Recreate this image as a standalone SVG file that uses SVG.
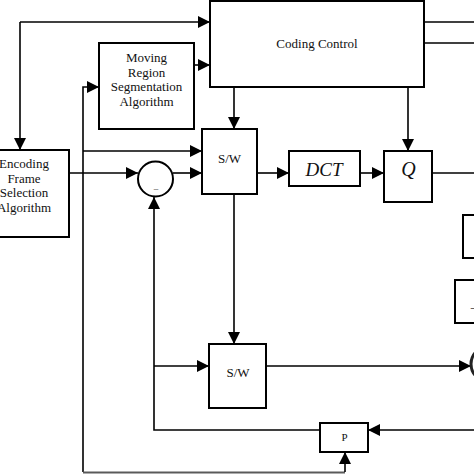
<svg xmlns="http://www.w3.org/2000/svg" width="474" height="474" viewBox="0 0 474 474">
  <defs>
    <marker id="ah" viewBox="0 0 12 12" refX="12" refY="6" markerWidth="12" markerHeight="12" markerUnits="userSpaceOnUse" orient="auto">
      <path d="M0,0 L12,6 L0,12 z" fill="#000"/>
    </marker>
    <style>
      .box { fill: #fff; stroke: #000; stroke-width: 2; }
      .ln { fill: none; stroke: #000; stroke-width: 1.6; }
      .arr { fill: none; stroke: #000; stroke-width: 1.6; marker-end: url(#ah); }
      .t { font-family: "Liberation Serif", "Times New Roman", serif; font-size: 13px; text-anchor: middle; fill: #111; }
      .it { font-style: italic; }
    </style>
  </defs>
  <rect width="474" height="474" fill="#fff"/>

  <g id="connectors">
    <path class="arr" d="M20,22 H210"/>
    <path class="arr" d="M20,22 V150"/>
    <path class="arr" d="M194,65 H210"/>
    <path class="arr" d="M83,472 V87 H99"/>
    <path d="M83,472.5 H345" fill="none" stroke="#5a5a5a" stroke-width="2.2"/>
    <path class="arr" d="M345,472 V452"/>
    <path class="arr" d="M83,151 H202"/>
    <path class="arr" d="M69,173 H138"/>
    <path class="arr" d="M173,173 H202"/>
    <path class="arr" d="M234,87 V129"/>
    <path class="arr" d="M257,173 H289"/>
    <path class="arr" d="M360,173 H384"/>
    <path class="arr" d="M408,87 V151"/>
    <path class="ln" d="M432,173 H474"/>
    <path class="ln" d="M424,22 H474"/>
    <path class="ln" d="M424,43 H474"/>
    <path class="arr" d="M234,194 V344"/>
    <path class="arr" d="M266,366 H471"/>
    <path class="arr" d="M320,430 H154 V197"/>
    <path class="arr" d="M154,366 H209"/>
    <path class="arr" d="M474,430 H368"/>
  </g>

  <g id="coding-control">
    <rect class="box" x="210" y="1" width="214" height="86"/>
    <text class="t" x="317" y="48">Coding Control</text>
  </g>

  <g id="moving-region">
    <rect class="box" x="99" y="43" width="95" height="86"/>
    <text class="t" x="146.5" y="62">Moving</text>
    <text class="t" x="146.5" y="77">Region</text>
    <text class="t" x="146.5" y="91">Segmentation</text>
    <text class="t" x="146.5" y="106">Algorithm</text>
  </g>

  <g id="encoding-frame">
    <rect class="box" x="-10" y="150" width="79" height="87"/>
    <text class="t" x="24" y="168">Encoding</text>
    <text class="t" x="24" y="183">Frame</text>
    <text class="t" x="24" y="197">Selection</text>
    <text class="t" x="24" y="212">Algorithm</text>
  </g>

  <g id="subtractor">
    <circle cx="155.5" cy="179" r="17.5" fill="#fff" stroke="#000" stroke-width="2"/>
    <text class="t" x="156" y="191" style="font-size:9px">–</text>
  </g>

  <g id="sw-upper">
    <rect class="box" x="202" y="129" width="55" height="65"/>
    <text class="t" x="229.5" y="163">S/W</text>
  </g>

  <g id="dct">
    <rect class="box" x="289" y="151" width="71" height="35"/>
    <text class="t it" x="324" y="176" style="font-size:19px">DCT</text>
  </g>

  <g id="quantizer">
    <rect class="box" x="384" y="151" width="48" height="51"/>
    <text class="t it" x="408.5" y="176" style="font-size:20px">Q</text>
  </g>

  <g id="right-box-1">
    <rect class="box" x="463" y="215" width="20" height="43"/>
  </g>

  <g id="right-box-2">
    <rect class="box" x="455" y="280" width="30" height="43"/>
    <text class="t" x="474" y="311">–</text>
  </g>

  <g id="adder">
    <circle cx="488.5" cy="364" r="17.5" fill="#fff" stroke="#222" stroke-width="3"/>
  </g>

  <g id="sw-lower">
    <rect class="box" x="209" y="344" width="57" height="64"/>
    <text class="t" x="238" y="377">S/W</text>
  </g>

  <g id="predictor">
    <rect class="box" x="320" y="423" width="48" height="29"/>
    <text class="t" x="344.5" y="441" style="font-size:11px">P</text>
  </g>
</svg>
